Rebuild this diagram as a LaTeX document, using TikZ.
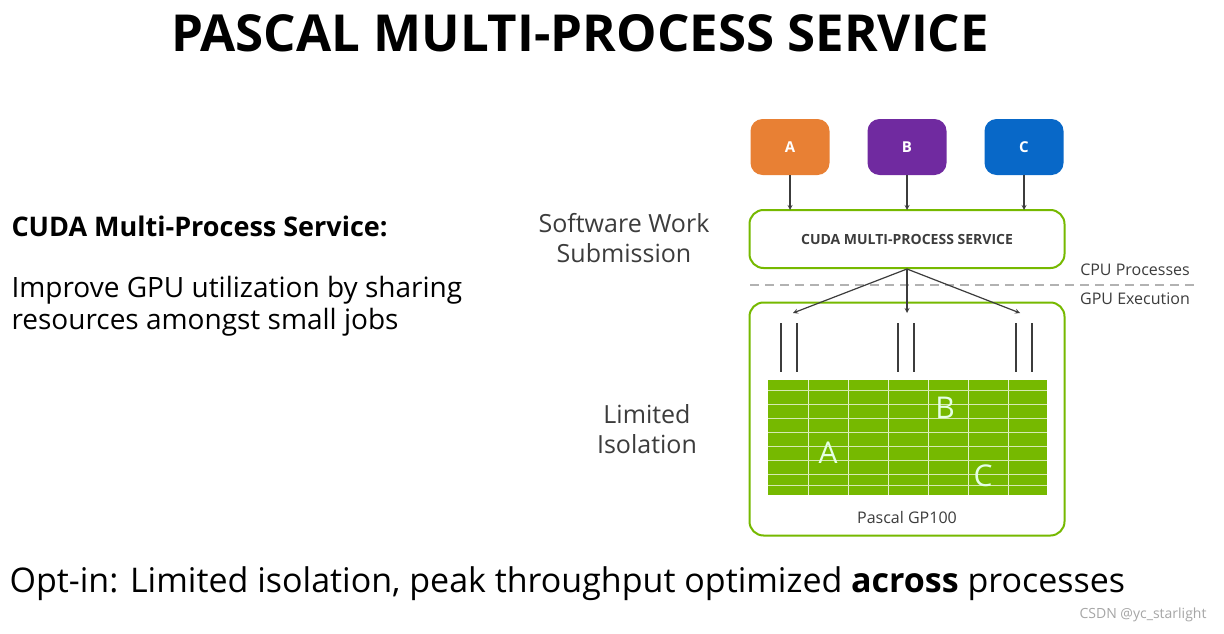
\documentclass[tikz,border=0pt]{standalone}
\usepackage{fontspec}
\setmainfont{Open Sans}
\usetikzlibrary{positioning}
\definecolor{nvgreen}{RGB}{118,185,0}
\definecolor{procA}{RGB}{232,128,52}
\definecolor{procB}{RGB}{112,42,160}
\definecolor{procC}{RGB}{8,104,200}
\definecolor{txtgray}{RGB}{60,60,60}
\begin{document}
\begin{tikzpicture}[x=1pt,y=-1pt,
proc/.style={rectangle,rounded corners=12pt,minimum width=79pt,minimum height=56pt,text=white,font=\fontsize{15}{15}\selectfont\bfseries},
frame/.style={draw=nvgreen,line width=2pt,rounded corners=14pt},
lbl/.style={align=center,text=txtgray,font=\fontsize{25}{30}\selectfont},
side/.style={text=txtgray,font=\fontsize{16}{16}\selectfont},
big/.style={text=green!10!white,font=\fontsize{30}{30}\selectfont},
link/.style={draw=txtgray,line width=1.2pt,-stealth}]
\useasboundingbox (0,0) rectangle (1224,634);
\fill[white] (0,0) rectangle (1224,634);
% title and left text
\node (title) at (580,33) {\fontsize{51}{51}\selectfont\bfseries PASCAL MULTI-PROCESS SERVICE};
\node[anchor=west,font=\fontsize{27}{27}\selectfont\bfseries] (head) at (8,226) {CUDA Multi-Process Service:};
\node[anchor=west,align=left,font=\fontsize{28}{32}\selectfont] (body) at (8,306) {Improve GPU utilization by sharing\\resources amongst small jobs};
\node[anchor=west,font=\fontsize{34}{34}\selectfont] (foot) at (6,584) {Opt-in: Limited isolation, peak throughput optimized \textbf{across} processes};
\node[anchor=east,text=gray!70] (mark) at (1210,615) {\fontsize{14}{14}\selectfont CSDN @yc\_starlight};
% processes
\node[proc,fill=procA] (pa) at (790,147) {A};
\node[proc,fill=procB] (pb) at (907,147) {B};
\node[proc,fill=procC] (pc) at (1024,147) {C};
\node[frame,minimum width=315pt,minimum height=58pt,text=txtgray,font=\fontsize{14}{14}\selectfont\bfseries] (mps) at (907,239) {CUDA MULTI-PROCESS SERVICE};
\node[frame,minimum width=315pt,minimum height=233pt] (gpu) at (907,419) {};
\node[lbl] (sws) at (624,238) {Software Work\\Submission};
\node[lbl] (iso) at (647,429) {Limited\\Isolation};
\node[side] (cpu) at (1135,270) {CPU Processes};
\node[side] (gex) at (1135,299) {GPU Execution};
\node[text=txtgray,font=\fontsize{16}{16}\selectfont] (gp) at (907,517) {Pascal GP100};
\coordinate (dl) at (750,285);
\coordinate (dr) at (1195,285);
\draw[gray!60,line width=1.5pt,dash pattern=on 9pt off 6pt] (dl) -- (dr);
\foreach \n/\x in {pa/790,pb/907,pc/1024}
  \draw[link] (\n.south) -- (\x,210);
\coordinate (q1) at (793,313);
\coordinate (q2) at (907,313);
\coordinate (q3) at (1020,313);
\foreach \q in {q1,q2,q3}
  \draw[link] (mps.south) -- (\q);
% queues
\foreach \x in {781,797,898,914,1016,1032}
  \draw[txtgray,line width=1.5pt] (\x,323) -- (\x,372);
% SMs
\fill[nvgreen] (768,380) rectangle (1047,495);
\foreach \x in {808,848,888,928,968,1008}
  \draw[white!80!nvgreen,line width=1pt] (\x,380) -- (\x,495);
\foreach \y in {390,404,418,432,446,460,474,485}
  \draw[white!70!nvgreen,line width=0.7pt] (768,\y) -- (1047,\y);
\node[big] (ka) at (828,453) {A};
\node[big] (kb) at (945,408) {B};
\node[big] (kc) at (983,476) {C};
\end{tikzpicture}
\end{document}
